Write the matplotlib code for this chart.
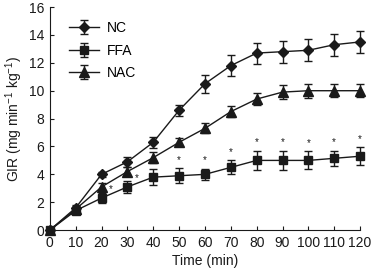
import matplotlib
matplotlib.use("Agg")
import matplotlib.pyplot as plt

plt.rcParams['font.family'] = ['Liberation Sans', 'DejaVu Sans']
plt.rcParams['mathtext.fontset'] = 'custom'
plt.rcParams['mathtext.rm'] = 'Liberation Sans'
plt.rcParams['mathtext.default'] = 'rm'

# data
time = [0, 10, 20, 30, 40, 50, 60, 70, 80, 90, 100, 110, 120]
nc = [0, 1.6, 4.0, 4.9, 6.3, 8.6, 10.5, 11.8, 12.7, 12.8, 12.9, 13.3, 13.5]
nc_err = [0, 0.2, 0.2, 0.35, 0.4, 0.4, 0.65, 0.75, 0.75, 0.8, 0.8, 0.8, 0.8]
ffa = [0, 1.4, 2.3, 3.1, 3.8, 3.9, 4.0, 4.5, 5.0, 5.0, 5.0, 5.15, 5.3]
ffa_err = [0, 0.2, 0.35, 0.45, 0.55, 0.55, 0.4, 0.5, 0.7, 0.7, 0.65, 0.55, 0.65]
nac = [0, 1.5, 3.1, 4.2, 5.2, 6.3, 7.3, 8.5, 9.4, 9.9, 10.0, 10.0, 10.0]
nac_err = [0, 0.2, 0.3, 0.35, 0.4, 0.3, 0.35, 0.4, 0.45, 0.5, 0.5, 0.45, 0.45]
star_times = [20, 30, 40, 50, 60, 70, 80, 90, 100, 110, 120]

ink = '#1a1a1a'

fig = plt.figure(figsize=(3.72, 2.72), dpi=100)
ax = fig.add_axes([0.134, 0.154, 0.834, 0.82])

series = [
    ('NC', nc, nc_err, 'D', 5.5),
    ('FFA', ffa, ffa_err, 's', 6),
    ('NAC', nac, nac_err, '^', 7),
]
for label, vals, err, mk, ms in series:
    ax.errorbar(time, vals, yerr=err, color=ink, marker=mk, markersize=ms,
                linewidth=1, elinewidth=1, capsize=3, capthick=1,
                label=label, clip_on=False, zorder=3)

# significance marks over FFA (first two sit to the right of the bar)
for t in star_times:
    i = time.index(t)
    if t <= 30:
        ax.text(t + 3.5, ffa[i] + 0.3, '*', fontsize=7, color=ink,
                ha='center', va='bottom', zorder=5)
    else:
        ax.text(t, ffa[i] + ffa_err[i] + 0.25, '*', fontsize=7, color=ink,
                ha='center', va='bottom', zorder=5)

ax.set_xlim(0, 120)
ax.set_ylim(0, 16)
ax.set_xticks(range(0, 121, 10))
ax.set_yticks(range(0, 17, 2))
ax.tick_params(direction='in', length=3, labelsize=10, colors=ink, pad=4)
for s in ['top', 'right']:
    ax.spines[s].set_visible(False)
for s in ['left', 'bottom']:
    ax.spines[s].set_color(ink)

ax.set_xlabel('Time (min)', fontsize=10, color=ink, labelpad=3)
ax.set_ylabel('GIR (mg min$^{-1}$ kg$^{-1}$)', fontsize=10, color=ink, labelpad=3)

ax.legend(loc='upper left', bbox_to_anchor=(0.03, 0.98), frameon=False,
          fontsize=10, handlelength=2.2, handletextpad=0.5,
          labelspacing=0.6, borderaxespad=0.3)

fig.savefig('out.png', dpi=100)
